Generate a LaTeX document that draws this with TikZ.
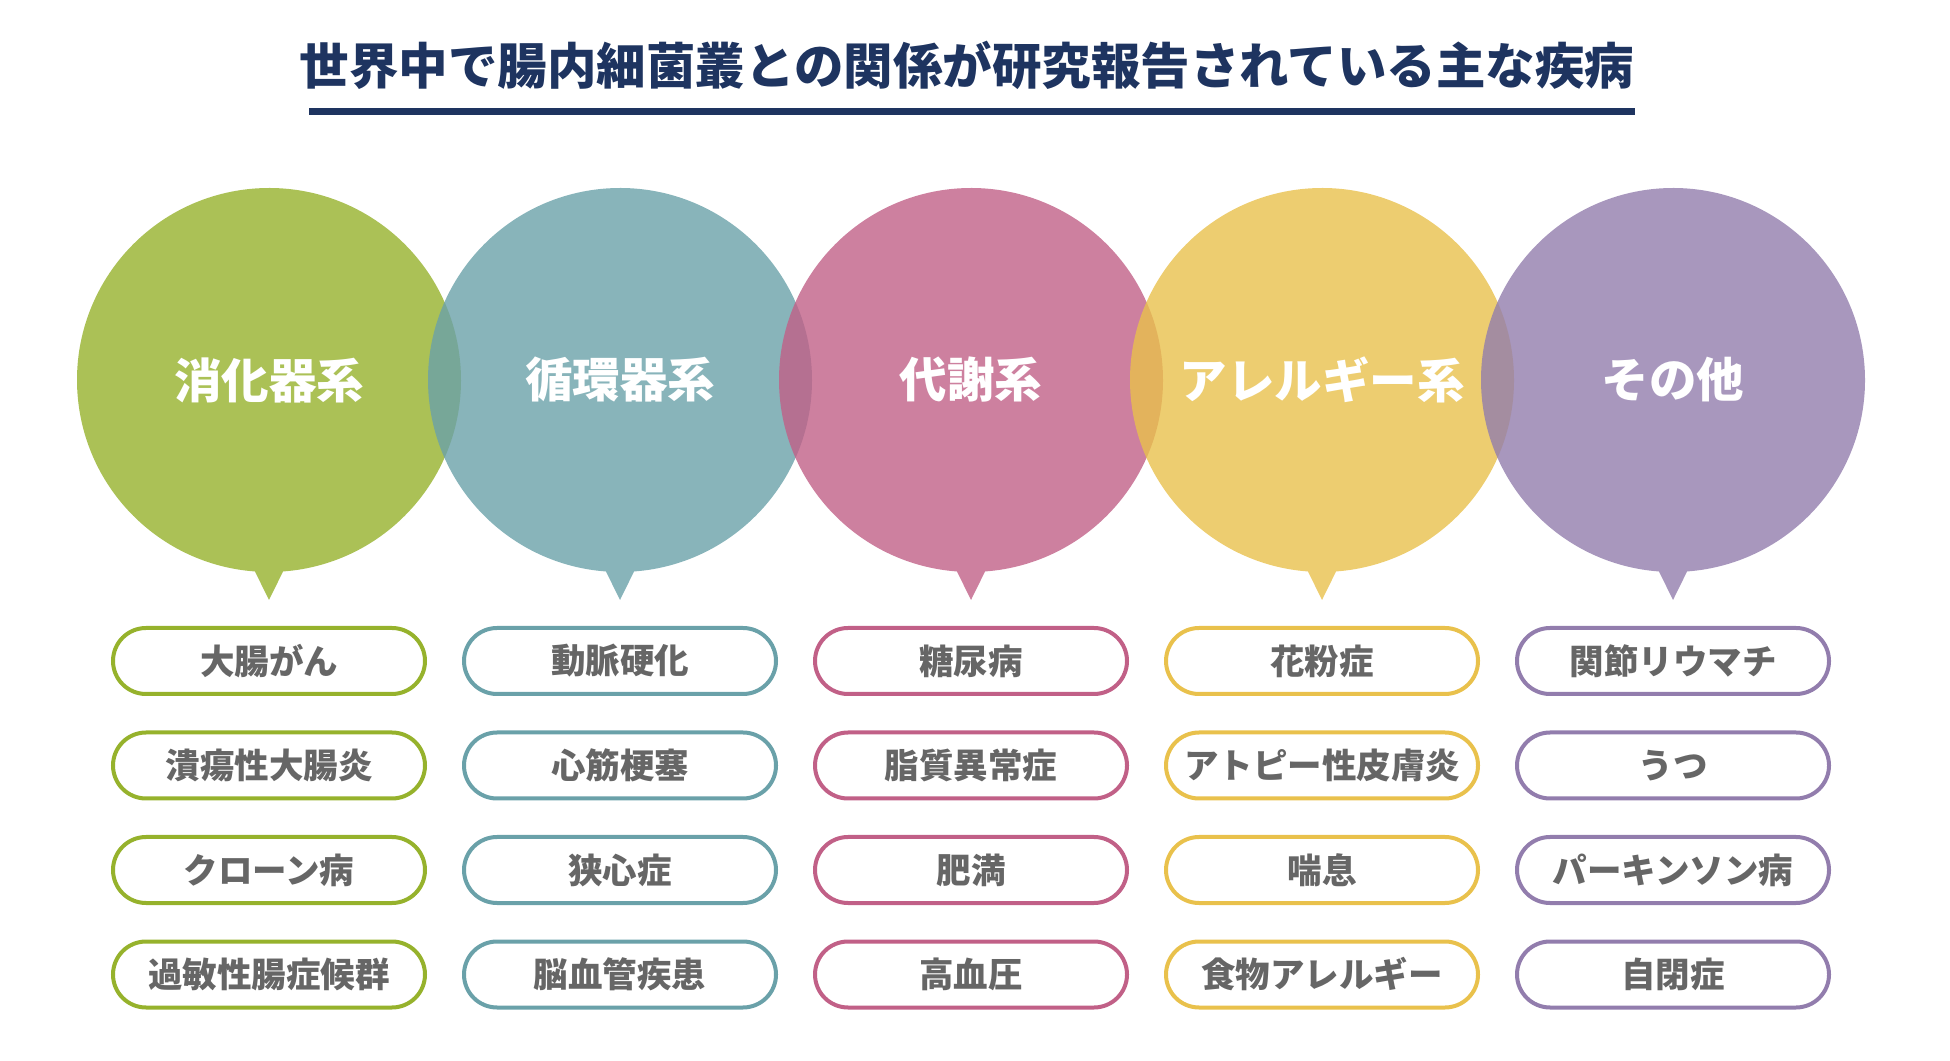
\documentclass[tikz,border=0pt]{standalone}
\usepackage{fontspec}
\usepackage{tikz}
\usetikzlibrary{calc}
\newfontfamily\jp{Noto Sans CJK JP}
\definecolor{navy}{RGB}{30,52,96}
\definecolor{txtgrey}{RGB}{102,102,102}
\definecolor{cGreen}{RGB}{150,178,44}
\definecolor{cTeal}{RGB}{106,161,169}
\definecolor{cPink}{RGB}{193,96,135}
\definecolor{cYellow}{RGB}{233,193,76}
\definecolor{cPurple}{RGB}{146,125,173}
\tikzset{
  bubblelabel/.style={text=white, inner sep=0pt, font=\jp\bfseries\fontsize{47.5}{48}\selectfont},
  pill/.style={rectangle, rounded corners=33pt, line width=4pt, fill=white, minimum width=312pt, minimum height=66pt, inner sep=0pt, text=txtgrey, font=\jp\bfseries\fontsize{34.5}{35}\selectfont},
}
\newcommand{\bubble}[4]{\fill[#2, fill opacity=0.8] (#1, 460) -- ($(#1,680)+(-85.8:192)$) arc(-85.8:265.8:192) -- cycle; \node[bubblelabel] (#3) at (#1, 680) {#4};}
\newcommand{\pill}[5]{\node[pill, draw=#3] (#4) at (#1, #2) {#5};}

\begin{document}
\begin{tikzpicture}[x=1pt, y=1pt]
        \useasboundingbox (0,0) rectangle (1950,1060);
        \node[text=navy, inner sep=0pt, font=\jp\bfseries\fontsize{49.5}{50}\selectfont] (title) at (967, 995) {世界中で腸内細菌叢との関係が研究報告されている主な疾病};
        \coordinate (ulL) at (309, 948.5);
        \coordinate (ulR) at (1635, 948.5);
        \draw[navy, line width=7pt] (ulL) -- (ulR);
        % circles
        \bubble{269}{cGreen}{shoka}{消化器系}
        \bubble{620}{cTeal}{junkan}{循環器系}
        \bubble{971}{cPink}{taisha}{代謝系}
        \bubble{1322}{cYellow}{allergy}{アレルギー系}
        \bubble{1673}{cPurple}{sonota}{その他}
        % pills
        \pill{269}{399}{cGreen}{shoka1}{大腸がん}
        \pill{269}{294.5}{cGreen}{shoka2}{潰瘍性大腸炎}
        \pill{269}{190}{cGreen}{shoka3}{クローン病}
        \pill{269}{85.5}{cGreen}{shoka4}{過敏性腸症候群}
        \pill{620}{399}{cTeal}{junkan1}{動脈硬化}
        \pill{620}{294.5}{cTeal}{junkan2}{心筋梗塞}
        \pill{620}{190}{cTeal}{junkan3}{狭心症}
        \pill{620}{85.5}{cTeal}{junkan4}{脳血管疾患}
        \pill{971}{399}{cPink}{taisha1}{糖尿病}
        \pill{971}{294.5}{cPink}{taisha2}{脂質異常症}
        \pill{971}{190}{cPink}{taisha3}{肥満}
        \pill{971}{85.5}{cPink}{taisha4}{高血圧}
        \pill{1322}{399}{cYellow}{allergy1}{花粉症}
        \pill{1322}{294.5}{cYellow}{allergy2}{アトピー性皮膚炎}
        \pill{1322}{190}{cYellow}{allergy3}{喘息}
        \pill{1322}{85.5}{cYellow}{allergy4}{食物アレルギー}
        \pill{1673}{399}{cPurple}{sonota1}{関節リウマチ}
        \pill{1673}{294.5}{cPurple}{sonota2}{うつ}
        \pill{1673}{190}{cPurple}{sonota3}{パーキンソン病}
        \pill{1673}{85.5}{cPurple}{sonota4}{自閉症}
    \end{tikzpicture}
\end{document}
